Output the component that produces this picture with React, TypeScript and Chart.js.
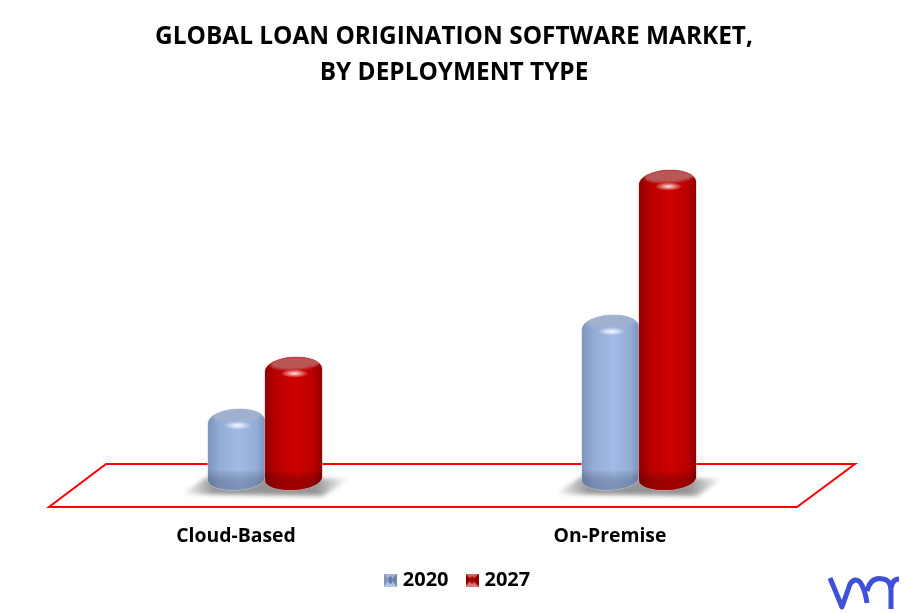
import React, { useEffect, useRef } from "react";
import { Chart, registerables } from "chart.js";

Chart.register(...registerables);

const categories = ["Cloud-Based", "On-Premise"];
const years = ["2020", "2027"];
const values2020 = [0.57, 1.51];
const values2027 = [1.09, 2.96];
const titleLines = ["GLOBAL LOAN ORIGINATION SOFTWARE MARKET,", "BY DEPLOYMENT TYPE"];
const FONT = "'Open Sans', 'Noto Sans', sans-serif";

const palettes = [
  { edge: "#7d93bc", soft: "#93acd6", mid: "#a0bbe6", bottom: "rgba(100,120,160,0.55)", face: "#a0b1d0", rim: "rgba(205,213,230,0.9)" },
  { edge: "#900000", soft: "#ba0000", mid: "#cf0000", bottom: "rgba(135,0,0,0.6)", face: "#b95656", rim: "rgba(225,170,170,0.9)" },
];

function marker(i: number) {
  const c = document.createElement("canvas");
  c.width = 13;
  c.height = 13;
  const g = c.getContext("2d") as CanvasRenderingContext2D;
  const shades = i === 0
    ? ["#a3b5d4", "#7f96bd", "#b4c6e2", "#6f86ad", "#5f7aa8"]
    : ["#c96a6a", "#8e0000", "#dc7a7a", "#8e0000", "#c00000"];
  const tri = (pts: number[][], col: string) => {
    g.fillStyle = col;
    g.beginPath();
    pts.forEach((p, k) => (k ? g.lineTo(p[0], p[1]) : g.moveTo(p[0], p[1])));
    g.closePath();
    g.fill();
  };
  tri([[0, 0], [13, 0], [6.5, 6.5]], shades[0]);
  tri([[0, 0], [0, 13], [6.5, 6.5]], shades[1]);
  tri([[0, 13], [13, 13], [6.5, 6.5]], shades[2]);
  tri([[13, 0], [13, 13], [6.5, 6.5]], shades[3]);
  g.fillStyle = shades[4];
  g.fillRect(5, 3, 3, 7);
  return c;
}

const CAP_RY = 13;
const BASE_RY = 11;
const TILT = -0.06;

function cylinderPath(ctx: CanvasRenderingContext2D, l: number, r: number, y: number, b: number) {
  const cx = (l + r) / 2;
  const rx = (r - l) / 2;
  ctx.beginPath();
  ctx.ellipse(cx, y, rx, CAP_RY, TILT, Math.PI, Math.PI * 2);
  ctx.ellipse(cx, b, rx, BASE_RY, TILT, 0, Math.PI);
  ctx.closePath();
}

function drawCylinder(ctx: CanvasRenderingContext2D, el: any, p: (typeof palettes)[number]) {
  const l = el.x - el.width / 2;
  const r = el.x + el.width / 2;
  const y = el.y;
  const b = el.base;
  const rx = el.width / 2;
  ctx.save();
  cylinderPath(ctx, l, r, y, b);
  ctx.strokeStyle = p.rim;
  ctx.lineWidth = 1;
  ctx.stroke();
  const grad = ctx.createLinearGradient(l, 0, r, 0);
  grad.addColorStop(0, p.edge);
  grad.addColorStop(0.2, p.soft);
  grad.addColorStop(0.55, p.mid);
  grad.addColorStop(0.85, p.soft);
  grad.addColorStop(1, p.edge);
  ctx.fillStyle = grad;
  ctx.fill();
  ctx.clip();
  // bottom bevel
  const vg = ctx.createLinearGradient(0, b - 9, 0, b + BASE_RY + 1);
  vg.addColorStop(0, "rgba(0,0,0,0)");
  vg.addColorStop(1, p.bottom);
  ctx.fillStyle = vg;
  ctx.fillRect(l, b - 9, r - l, BASE_RY + 12);
  // top face
  ctx.save();
  ctx.filter = "blur(0.8px)";
  ctx.fillStyle = p.face;
  ctx.beginPath();
  ctx.ellipse(el.x + 2, y - 7, rx - 3, 6.5, TILT, 0, Math.PI * 2);
  ctx.fill();
  ctx.restore();
  // highlight
  ctx.translate(el.x + 1, y + 3.5);
  ctx.scale(1, 0.3);
  const hg = ctx.createRadialGradient(0, 0, 0, 0, 0, 14);
  hg.addColorStop(0, "rgba(255,255,255,0.9)");
  hg.addColorStop(0.4, "rgba(255,255,255,0.55)");
  hg.addColorStop(1, "rgba(255,255,255,0)");
  ctx.fillStyle = hg;
  ctx.beginPath();
  ctx.arc(0, 0, 14, 0, Math.PI * 2);
  ctx.fill();
  ctx.restore();
}

const scenePlugin = {
  id: "scene",
  afterLayout(chart: any) {
    chart.legend.left += 7;
    chart.legend.right += 7;
    chart.titleBlock.left += 2;
    chart.titleBlock.right += 2;
  },
  beforeDatasetsDraw(chart: any) {
    const { ctx, chartArea: a } = chart;
    ctx.save();
    // floor
    ctx.strokeStyle = "#ff0000";
    ctx.lineWidth = 2;
    ctx.lineJoin = "miter";
    ctx.beginPath();
    ctx.moveTo(a.left - 29, a.bottom + 28);
    ctx.lineTo(a.right - 29, a.bottom + 28);
    ctx.lineTo(a.right + 29, a.bottom - 15);
    ctx.lineTo(a.left + 28, a.bottom - 15);
    ctx.closePath();
    ctx.stroke();
    // shadows
    const xs = chart.getDatasetMeta(0).data.map((el: any, i: number) => (el.x + chart.getDatasetMeta(1).data[i].x) / 2);
    xs.forEach((x: number) => {
      const b = a.bottom;
      const g = ctx.createLinearGradient(x - 84, 0, x + 84, 0);
      g.addColorStop(0, "rgba(150,150,150,0)");
      g.addColorStop(0.2, "rgba(150,150,150,1)");
      g.addColorStop(0.8, "rgba(150,150,150,1)");
      g.addColorStop(1, "rgba(150,150,150,0)");
      ctx.save();
      ctx.filter = "blur(2px)";
      ctx.fillStyle = g;
      ctx.beginPath();
      ctx.moveTo(x - 84, b + 15);
      ctx.lineTo(x - 56, b - 3);
      ctx.lineTo(x + 84, b + 0);
      ctx.lineTo(x + 58, b + 17);
      ctx.closePath();
      ctx.fill();
      ctx.restore();
    });
    ctx.restore();
  },
  afterDatasetsDraw(chart: any) {
    const { ctx } = chart;
    [0, 1].forEach((d) => {
      chart.getDatasetMeta(d).data.forEach((el: any) => drawCylinder(ctx, el, palettes[d]));
    });
  },
  afterDraw(chart: any) {
    const { ctx, width, height } = chart;
    ctx.save();
    ctx.translate(width, height);
    ctx.strokeStyle = "#3f51d6";
    ctx.lineWidth = 5;
    ctx.lineCap = "butt";
    ctx.lineJoin = "round";
    ctx.beginPath();
    ctx.moveTo(-75, -35);
    ctx.lineTo(-63, -6);
    ctx.quadraticCurveTo(-58, -20, -55, -29);
    ctx.quadraticCurveTo(-50, -36, -45, -31);
    ctx.quadraticCurveTo(-40, -24, -38, -10);
    ctx.moveTo(-38, -22);
    ctx.quadraticCurveTo(-34, -37, -22, -34);
    ctx.quadraticCurveTo(-14, -33, -14, -22);
    ctx.lineTo(-14, -4);
    ctx.moveTo(-14, -24);
    ctx.quadraticCurveTo(-13, -34, -6, -34);
    ctx.stroke();
    ctx.restore();
  },
};

export default function App() {
  const ref = useRef<HTMLCanvasElement>(null);
  useEffect(() => {
    const markers = [marker(0), marker(1)];
    const chart = new Chart(ref.current as HTMLCanvasElement, {
      type: "bar",
      data: {
        labels: categories,
        datasets: [
          { label: years[0], data: values2020, backgroundColor: "#9ab4de", categoryPercentage: 0.305, barPercentage: 1 },
          { label: years[1], data: values2027, backgroundColor: "#c00000", categoryPercentage: 0.305, barPercentage: 1 },
        ],
      },
      options: {
        responsive: false,
        animation: false,
        devicePixelRatio: 1,
        layout: { padding: { left: 78, right: 79, top: 0, bottom: 13 } },
        scales: {
          x: {
            grid: { display: false, drawTicks: false },
            border: { display: false },
            afterFit(scale: any) {
              scale.height = 70;
            },
            ticks: { color: "#000", font: { family: FONT, size: 19.4, weight: "bold" }, padding: 46, labelOffset: -29, maxRotation: 0 },
          },
          y: { display: false, min: 0, max: 3.5 },
        },
        plugins: {
          tooltip: { enabled: false },
          title: {
            display: true,
            text: titleLines,
            color: "#000",
            font: { family: FONT, size: 24.4, weight: "bold", lineHeight: 1.475 },
            padding: { top: 19, bottom: 38 },
          },
          legend: {
            position: "bottom",
            labels: {
              color: "#000",
              font: { family: FONT, size: 20, weight: "bold" },
              usePointStyle: true,
              pointStyleWidth: 5,
              boxWidth: 5,
              padding: 21,
              generateLabels(c: any) {
                return Chart.defaults.plugins.legend.labels.generateLabels(c).map((it: any, i: number) => ({
                  ...it,
                  pointStyle: markers[i],
                }));
              },
            },
          },
        },
      } as any,
      plugins: [scenePlugin],
    });
    return () => chart.destroy();
  }, []);
  return (
    <div style={{ position: "fixed", left: 0, top: 0, width: 905, height: 613, background: "#fff" }}>
      <canvas ref={ref} width={905} height={613} style={{ display: "block" }} />
    </div>
  );
}
